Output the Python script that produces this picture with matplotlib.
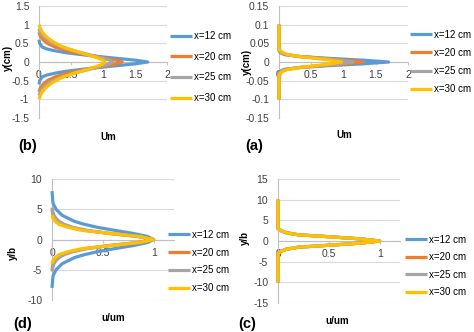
import matplotlib
matplotlib.use("Agg")
import matplotlib.pyplot as plt
from matplotlib.ticker import FuncFormatter

plt.rcParams['font.family'] = ['Liberation Sans', 'DejaVu Sans']

series_names = ["x=12 cm", "x=20 cm", "x=25 cm", "x=30 cm"]
series_colors = ["#5B9BD5", "#ED7D31", "#A5A5A5", "#FFC000"]

# (b) Um vs y(cm)
b_y12 = [0.6, 0.5, 0.4, 0.35, 0.3, 0.25, 0.2, 0.15, 0.1, 0.05, 0,
         -0.05, -0.1, -0.15, -0.2, -0.25, -0.3, -0.35, -0.4, -0.5, -0.6]
b_u12 = [0.0, 0.01, 0.05, 0.12, 0.25, 0.42, 0.65, 0.92, 1.2, 1.5, 1.7,
         1.5, 1.2, 0.92, 0.65, 0.42, 0.25, 0.12, 0.05, 0.01, 0.0]
b_y20 = [0.8, 0.7, 0.6, 0.5, 0.4, 0.3, 0.2, 0.1, 0.05, 0,
         -0.05, -0.1, -0.2, -0.3, -0.4, -0.5, -0.6, -0.7, -0.8]
b_u20 = [0.0, 0.02, 0.06, 0.13, 0.25, 0.45, 0.72, 1.05, 1.2, 1.3,
         1.2, 1.05, 0.72, 0.45, 0.25, 0.13, 0.06, 0.02, 0.0]
b_y25 = [0.9, 0.8, 0.7, 0.6, 0.5, 0.4, 0.3, 0.2, 0.1, 0.05, 0,
         -0.05, -0.1, -0.2, -0.3, -0.4, -0.5, -0.6, -0.7, -0.8, -0.9]
b_u25 = [0.0, 0.02, 0.06, 0.12, 0.22, 0.36, 0.55, 0.78, 1.0, 1.1, 1.15,
         1.1, 1.0, 0.78, 0.55, 0.36, 0.22, 0.12, 0.06, 0.02, 0.0]
b_y30 = [1.0, 0.9, 0.8, 0.7, 0.6, 0.5, 0.4, 0.3, 0.2, 0.1, 0.05, 0,
         -0.05, -0.1, -0.2, -0.3, -0.4, -0.5, -0.6, -0.7, -0.8, -0.9, -1.0]
b_u30 = [0.0, 0.02, 0.05, 0.1, 0.17, 0.26, 0.38, 0.55, 0.75, 0.93, 1.0, 1.03,
         1.0, 0.93, 0.75, 0.55, 0.38, 0.26, 0.17, 0.1, 0.05, 0.02, 0.0]

# (a) Um vs y(cm), narrow profiles
a_y12 = [0.1, 0.03, 0.025, 0.02, 0.015, 0.01, 0.005, 0,
         -0.005, -0.01, -0.015, -0.02, -0.025, -0.03, -0.1]
a_u12 = [0, 0.0, 0.02, 0.08, 0.3, 0.75, 1.3, 1.7,
         1.3, 0.75, 0.3, 0.08, 0.02, 0.0, 0]
a_y20 = [0.1, 0.03, 0.025, 0.02, 0.015, 0.01, 0.005, 0,
         -0.005, -0.01, -0.015, -0.02, -0.025, -0.03, -0.1]
a_u20 = [0, 0.01, 0.03, 0.1, 0.3, 0.65, 1.05, 1.3,
         1.05, 0.65, 0.3, 0.1, 0.03, 0.01, 0]
a_y25 = [0.1, 0.035, 0.03, 0.025, 0.02, 0.015, 0.01, 0.005, 0,
         -0.005, -0.01, -0.015, -0.02, -0.025, -0.03, -0.035, -0.1]
a_u25 = [0, 0.0, 0.01, 0.04, 0.12, 0.32, 0.62, 0.95, 1.15,
         0.95, 0.62, 0.32, 0.12, 0.04, 0.01, 0.0, 0]
a_y30 = [0.1, 0.035, 0.03, 0.025, 0.02, 0.015, 0.01, 0.005, 0,
         -0.005, -0.01, -0.015, -0.02, -0.025, -0.03, -0.035, -0.1]
a_u30 = [0, 0, 0.02, 0.06, 0.14, 0.3, 0.55, 0.8, 0.97,
         0.8, 0.55, 0.3, 0.14, 0.06, 0.02, 0, 0]

# (d) u/um vs y/b
d_y12 = [8, 6, 5, 4, 3, 2.5, 2, 1.5, 1, 0.5, 0,
         -0.5, -1, -1.5, -2, -2.5, -3, -4, -5, -6, -8]
d_u12 = [0, 0.01, 0.04, 0.1, 0.22, 0.32, 0.45, 0.62, 0.8, 0.94, 1,
         0.94, 0.8, 0.62, 0.45, 0.32, 0.22, 0.1, 0.04, 0.01, 0]
d_y20 = [5, 4, 3.5, 3, 2.5, 2, 1.5, 1, 0.5, 0,
         -0.5, -1, -1.5, -2, -2.5, -3, -3.5, -4, -5]
d_u20 = [0, 0.01, 0.03, 0.05, 0.1, 0.19, 0.33, 0.56, 0.84, 1,
         0.84, 0.56, 0.33, 0.19, 0.1, 0.05, 0.03, 0.01, 0]
d_y25 = [5.3, 4.5, 4, 3.5, 3, 2.5, 2, 1.5, 1, 0.5, 0,
         -0.5, -1, -1.5, -2, -2.5, -3, -3.5, -4, -4.5, -5.3]
d_u25 = [0, 0.01, 0.02, 0.04, 0.07, 0.12, 0.21, 0.35, 0.57, 0.85, 1,
         0.85, 0.57, 0.35, 0.21, 0.12, 0.07, 0.04, 0.02, 0.01, 0]
d_y30 = [4, 3.5, 3, 2.5, 2, 1.5, 1, 0.5, 0,
         -0.5, -1, -1.5, -2, -2.5, -3, -3.5, -4]
d_u30 = [0, 0.01, 0.03, 0.07, 0.16, 0.3, 0.58, 0.86, 1,
         0.86, 0.58, 0.3, 0.16, 0.07, 0.03, 0.01, 0]

# (c) u/um vs y/b, all four profiles collapse
c_y = [10, 3, 2.5, 2, 1.5, 1, 0.5, 0, -0.5, -1, -1.5, -2, -2.5, -3, -10]
c_u = [0, 0, 0.03, 0.08, 0.2, 0.52, 0.82, 1, 0.82, 0.52, 0.2, 0.08, 0.03, 0, 0]

W, H = 474, 332
fig = plt.figure(figsize=(W / 100, H / 100), dpi=100)


def px_axes(x0, y0, x1, y1):
    # pixel box (top-left origin) -> figure axes
    return fig.add_axes([x0 / W, 1 - y1 / H, (x1 - x0) / W, (y1 - y0) / H])


def panel(box, curves, xlim, xticks, ylim, yticks, ylab, xlab, tag,
          ylab_pos, xlab_pos, tag_pos, leg_pos, leg_space):
    ax = px_axes(*box)
    for (u, y), col, name in zip(curves, series_colors, series_names):
        ax.plot(u, y, color=col, lw=2.3, label=name, clip_on=False,
                zorder=3, solid_capstyle='butt')
    ax.set_xlim(*xlim)
    ax.set_ylim(*ylim)
    ax.set_xticks(xticks)
    ax.set_yticks(yticks)
    fmt = FuncFormatter(lambda v, p: "%g" % round(v, 4))
    ax.xaxis.set_major_formatter(fmt)
    ax.yaxis.set_major_formatter(fmt)
    ax.grid(axis='y', color='#d9d9d9', lw=0.8, zorder=0)
    for s in ['top', 'right']:
        ax.spines[s].set_visible(False)
    ax.spines['bottom'].set_position(('data', 0))
    ax.spines['bottom'].set_color('#bfbfbf')
    ax.spines['left'].set_color('#bfbfbf')
    ax.spines['bottom'].set_linewidth(0.8)
    ax.spines['left'].set_linewidth(0.8)
    ax.tick_params(axis='x', direction='out', length=2.5, width=0.6,
                   color='#bfbfbf', labelsize=7.5, pad=3.5, labelcolor='#404040')
    ax.tick_params(axis='y', length=0, labelsize=7.5, pad=7, labelcolor='#404040')
    ax.set_axisbelow(True)

    fig.text(ylab_pos[0] / W, 1 - ylab_pos[1] / H, ylab, rotation=90,
             ha='center', va='center', fontsize=7, fontweight='bold')
    fig.text(xlab_pos[0] / W, 1 - xlab_pos[1] / H, xlab,
             ha='center', va='center', fontsize=7, fontweight='bold')
    fig.text(tag_pos[0] / W, 1 - tag_pos[1] / H, tag,
             ha='center', va='center', fontsize=10.5, fontweight='bold')
    ax.legend(loc='center left', bbox_to_anchor=(leg_pos[0] / W, 1 - leg_pos[1] / H),
              bbox_transform=fig.transFigure, frameon=False, fontsize=7,
              handlelength=2.3, handletextpad=0.15, labelspacing=leg_space,
              borderpad=0, borderaxespad=0)
    return ax


panel((39, 6, 167, 118),
      [(b_u12, b_y12), (b_u20, b_y20), (b_u25, b_y25), (b_u30, b_y30)],
      (0, 2), [0, 0.5, 1, 1.5, 2], (-1.5, 1.5),
      [-1.5, -1, -0.5, 0, 0.5, 1, 1.5],
      "y(cm)", "Um", "(b)", (8, 58), (108, 137), (28, 146), (170, 67), 1.1)

panel((279, 6, 408, 118),
      [(a_u12, a_y12), (a_u20, a_y20), (a_u25, a_y25), (a_u30, a_y30)],
      (0, 2), [0, 0.5, 1, 1.5, 2], (-0.15, 0.15),
      [-0.15, -0.1, -0.05, 0, 0.05, 0.1, 0.15],
      "y(cm)", "Um", "(a)", (247, 62), (344, 135), (254, 146), (410, 62), 0.85)

panel((52, 179, 174, 300),
      [(d_u12, d_y12), (d_u20, d_y20), (d_u25, d_y25), (d_u30, d_y30)],
      (0, 1.2), [0, 0.5, 1], (-10, 10), [-10, -5, 0, 5, 10],
      "y/b", "u/um", "(d)", (13, 253), (113, 318), (23, 324), (168, 261.5), 0.8)

panel((278, 179, 400, 303),
      [(c_u, c_y), (c_u, c_y), (c_u, c_y), (c_u, c_y)],
      (0, 1.2), [0, 0.5, 1], (-15, 15), [-15, -10, -5, 0, 5, 10, 15],
      "y/b", "u/um", "(c)", (245, 238), (337, 321), (247, 324), (405, 266), 0.78)

fig.savefig("out.png", dpi=100)
